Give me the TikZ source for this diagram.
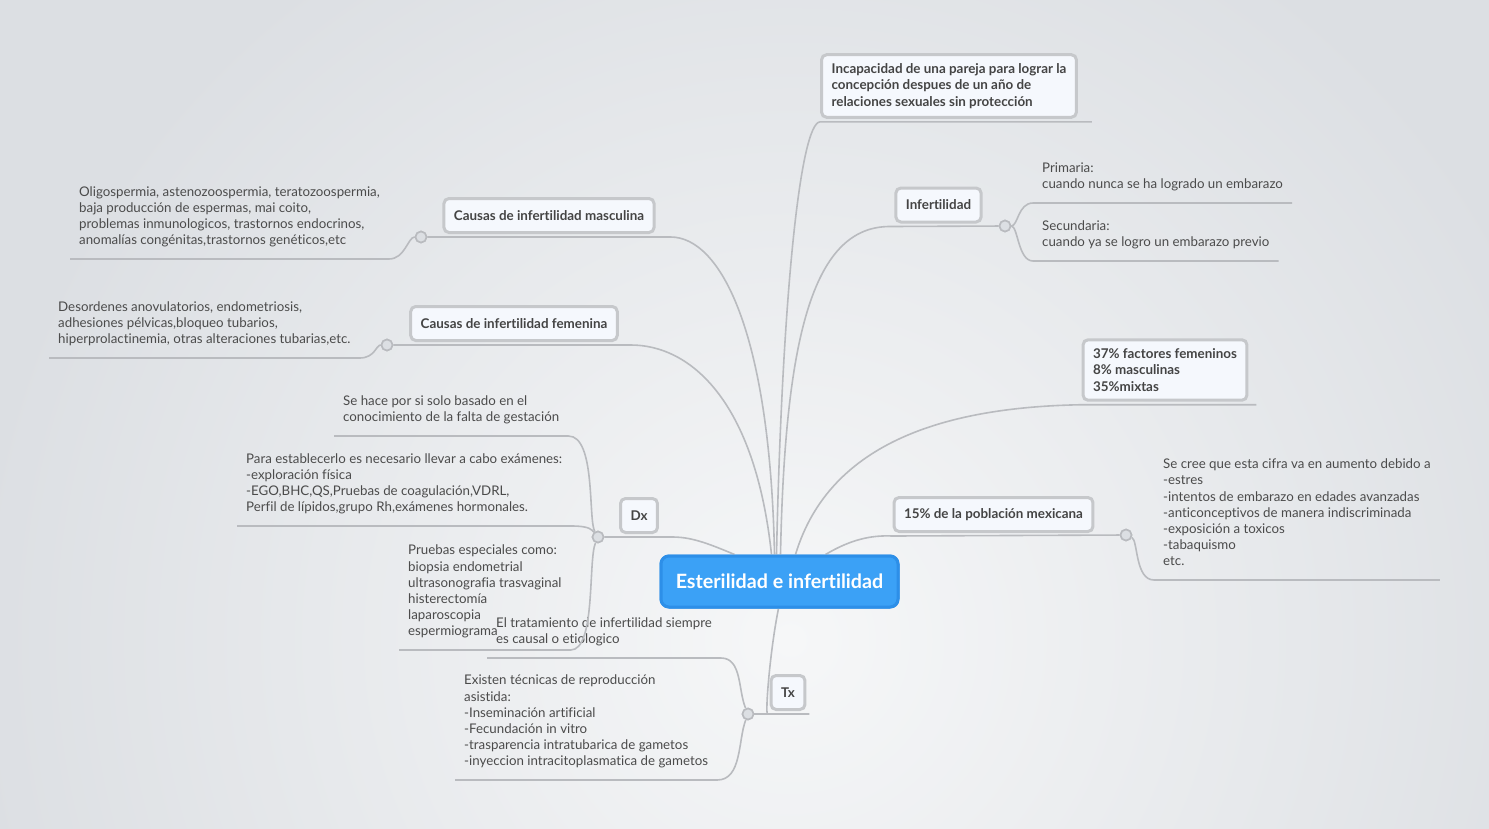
\documentclass[tikz,border=0pt]{standalone}
\usepackage{fontspec}
\setmainfont{Lato}[Ligatures=NoCommon]
\usetikzlibrary{positioning}
\definecolor{bgcol}{HTML}{DCDFE3}
\definecolor{bglight}{HTML}{F6F7F8}
\definecolor{linecol}{HTML}{B9BBBF}
\definecolor{boxline}{HTML}{C6C8CB}
\definecolor{boxfill}{HTML}{F5F8FD}
\definecolor{txtcol}{HTML}{4B4B4B}
\definecolor{rootfill}{HTML}{3BA1F6}
\definecolor{rootline}{HTML}{2D8FE8}
\tikzset{
  root/.style={draw=rootline, line width=3pt, fill=rootfill, rounded corners=8pt,
    text=white, font=\bfseries\fontsize{19.7}{22}\selectfont,
    minimum width=237pt, minimum height=51pt},
  topic/.style={draw=boxline, line width=3pt, fill=boxfill, rounded corners=5pt,
    text=txtcol!90!black, font=\bfseries\fontsize{13.4}{16.2}\selectfont, align=left,
    inner xsep=10pt, inner ysep=9pt, minimum height=34pt},
  note/.style={anchor=south west, inner xsep=9pt, inner ysep=11pt, text depth=3pt,
    text=txtcol, font=\fontsize{13.3}{16.2}\selectfont, align=left},
  branch/.style={draw=linecol, line width=1.6pt},
  dot/.style={circle, draw=linecol, line width=1.6pt, fill=bgcol, inner sep=0pt,
    minimum size=11pt},
}
\begin{document}
\begin{tikzpicture}[x=1pt, y=-1pt]
  \useasboundingbox (0,0) rectangle (1489,828);
  \begin{scope}
    \clip (0,0) rectangle (1489,828);
    \fill[bgcol] (0,0) rectangle (1489,828);
    \shade[inner color=bglight, outer color=bgcol] (790,640) circle (820);
  \end{scope}

  % topics
  \node[topic] (incap) at (949,86)
    {Incapacidad de una pareja para lograr la\\concepción despues de un año de\\relaciones sexuales sin protección};
  \node[topic] (infert) at (938.5,205) {Infertilidad};
  \node[topic] (pct) at (1165,370) {37\% factores femeninos\\8\% masculinas\\35\%mixtas};
  \node[topic] (pob) at (993.5,514.5) {15\% de la población mexicana};
  \node[topic] (masc) at (549,215.5) {Causas de infertilidad masculina};
  \node[topic] (fem) at (514,323.5) {Causas de infertilidad femenina};
  \node[topic] (dx) at (639,515.5) {Dx};
  \node[topic] (tx) at (788,692.5) {Tx};

  % dots
  \node[dot] (infertdot) at (1005,226) {};
  \node[dot] (pobdot) at (1126,535) {};
  \node[dot] (mascdot) at (421,237) {};
  \node[dot] (femdot) at (387,345) {};
  \node[dot] (dxdot) at (598,537) {};
  \node[dot] (txdot) at (748,714) {};

  % notes
  \node[note] (prim) at (1033,203) {Primaria:\\cuando nunca se ha logrado un embarazo};
  \node[note] (secu) at (1033,261) {Secundaria:\\cuando ya se logro un embarazo previo};
  \node[note] (pobtxt) at (1154,580)
    {Se cree que esta cifra va en aumento debido a\\-estres\\-intentos de embarazo en edades avanzadas\\-anticonceptivos de manera indiscriminada\\-exposición a toxicos\\-tabaquismo\\etc.};
  \node[note] (masctxt) at (70,259)
    {Oligospermia, astenozoospermia, teratozoospermia,\\baja producción de espermas, mai coito,\\problemas inmunologicos, trastornos endocrinos,\\anomalías congénitas,trastornos genéticos,etc};
  \node[note] (femtxt) at (49,358)
    {Desordenes anovulatorios, endometriosis,\\adhesiones pélvicas,bloqueo tubarios,\\hiperprolactinemia, otras alteraciones tubarias,etc.};
  \node[note] (dxa) at (334,436) {Se hace por si solo basado en el\\conocimiento de la falta de gestación};
  \node[note] (dxb) at (237,526)
    {Para establecerlo es necesario llevar a cabo exámenes:\\-exploración física\\-EGO,BHC,QS,Pruebas de coagulación,VDRL,\\Perfil de lípidos,grupo Rh,exámenes hormonales.};
  \node[note] (dxc) at (399,650)
    {Pruebas especiales como:\\biopsia endometrial\\ultrasonografia trasvaginal\\histerectomía\\laparoscopia\\espermiograma};
  \node[note] (txa) at (487,658) {El tratamiento de infertilidad siempre\\es causal o etiologico};
  \node[note] (txb) at (455,780)
    {Existen técnicas de reproducción\\asistida:\\-Inseminación artificial\\-Fecundación in vitro\\-trasparencia intratubarica de gametos\\-inyeccion intracitoplasmatica de gametos};

  % root
  \node[root] (root) at (779.5,581.5) {Esterilidad e infertilidad};

  % connectors from root
  \draw[branch] ([xshift=-3pt]root.north) .. controls (782,300) and (800,123) .. ([yshift=-3pt]incap.south west) -- ([xshift=14pt,yshift=-3pt]incap.south east);
  \draw[branch] ([xshift=1pt]root.north) .. controls (785,330) and (815,226) .. ([xshift=-4pt,yshift=-3pt]infert.south west) -- (infertdot);
  \draw[branch] ([xshift=16pt]root.north) .. controls (830,440) and (950,407) .. ([yshift=-3pt]pct.south west) -- ([xshift=8pt,yshift=-3pt]pct.south east);
  \draw[branch] ([xshift=46pt]root.north) .. controls (850,540) and (870,535) .. ([yshift=-3pt]pob.south west) -- (pobdot);
  \draw[branch] ([xshift=-5pt]root.north) .. controls (770,330) and (720,237) .. ([xshift=15pt,yshift=-3pt]masc.south east) -- (mascdot);
  \draw[branch] ([xshift=-8pt]root.north) .. controls (755,400) and (690,345) .. ([xshift=12pt,yshift=-3pt]fem.south east) -- (femdot);
  \draw[branch] ([xshift=-45pt]root.north) .. controls (705,542) and (690,537) .. ([xshift=13pt,yshift=-3pt]dx.south east) -- (dxdot);
  \draw[branch] ([xshift=-1pt]root.south) .. controls (770,650) and (765,714) .. ([xshift=-2pt,yshift=-3pt]tx.south west) -- ([xshift=3pt,yshift=-3pt]tx.south east);
  \draw[branch] ([xshift=-2pt,yshift=-3pt]tx.south west) -- (txdot);

  % connectors from dots
  \draw[branch] (infertdot) .. controls (1018,226) and (1018,203) .. (prim.south west) -- (prim.south east);
  \draw[branch] (infertdot) .. controls (1018,226) and (1018,261) .. (secu.south west) -- (secu.south east);
  \draw[branch] (pobdot) .. controls (1138,540) and (1135,580) .. (pobtxt.south west) -- (pobtxt.south east);
  \draw[branch] (mascdot) .. controls (408,237) and (405,259) .. (masctxt.south east) -- (masctxt.south west);
  \draw[branch] (femdot) .. controls (376,345) and (375,358) .. (femtxt.south east) -- (femtxt.south west);
  \draw[branch] (dxdot) .. controls (588,520) and (596,436) .. (dxa.south east) -- (dxa.south west);
  \draw[branch] (dxdot) .. controls (592,530) and (590,526) .. (dxb.south east) -- (dxb.south west);
  \draw[branch] (dxdot) .. controls (588,560) and (596,650) .. (dxc.south east) -- (dxc.south west);
  \draw[branch] (txdot) .. controls (738,690) and (742,658) .. (txa.south east) -- (txa.south west);
  \draw[branch] (txdot) .. controls (738,740) and (742,780) .. (txb.south east) -- (txb.south west);

  % redraw nodes on top of lines
  \node[dot] at (infertdot) {};
  \node[dot] at (pobdot) {};
  \node[dot] at (mascdot) {};
  \node[dot] at (femdot) {};
  \node[dot] at (dxdot) {};
  \node[dot] at (txdot) {};
  \node[root] at (root) {Esterilidad e infertilidad};
\end{tikzpicture}
\end{document}
